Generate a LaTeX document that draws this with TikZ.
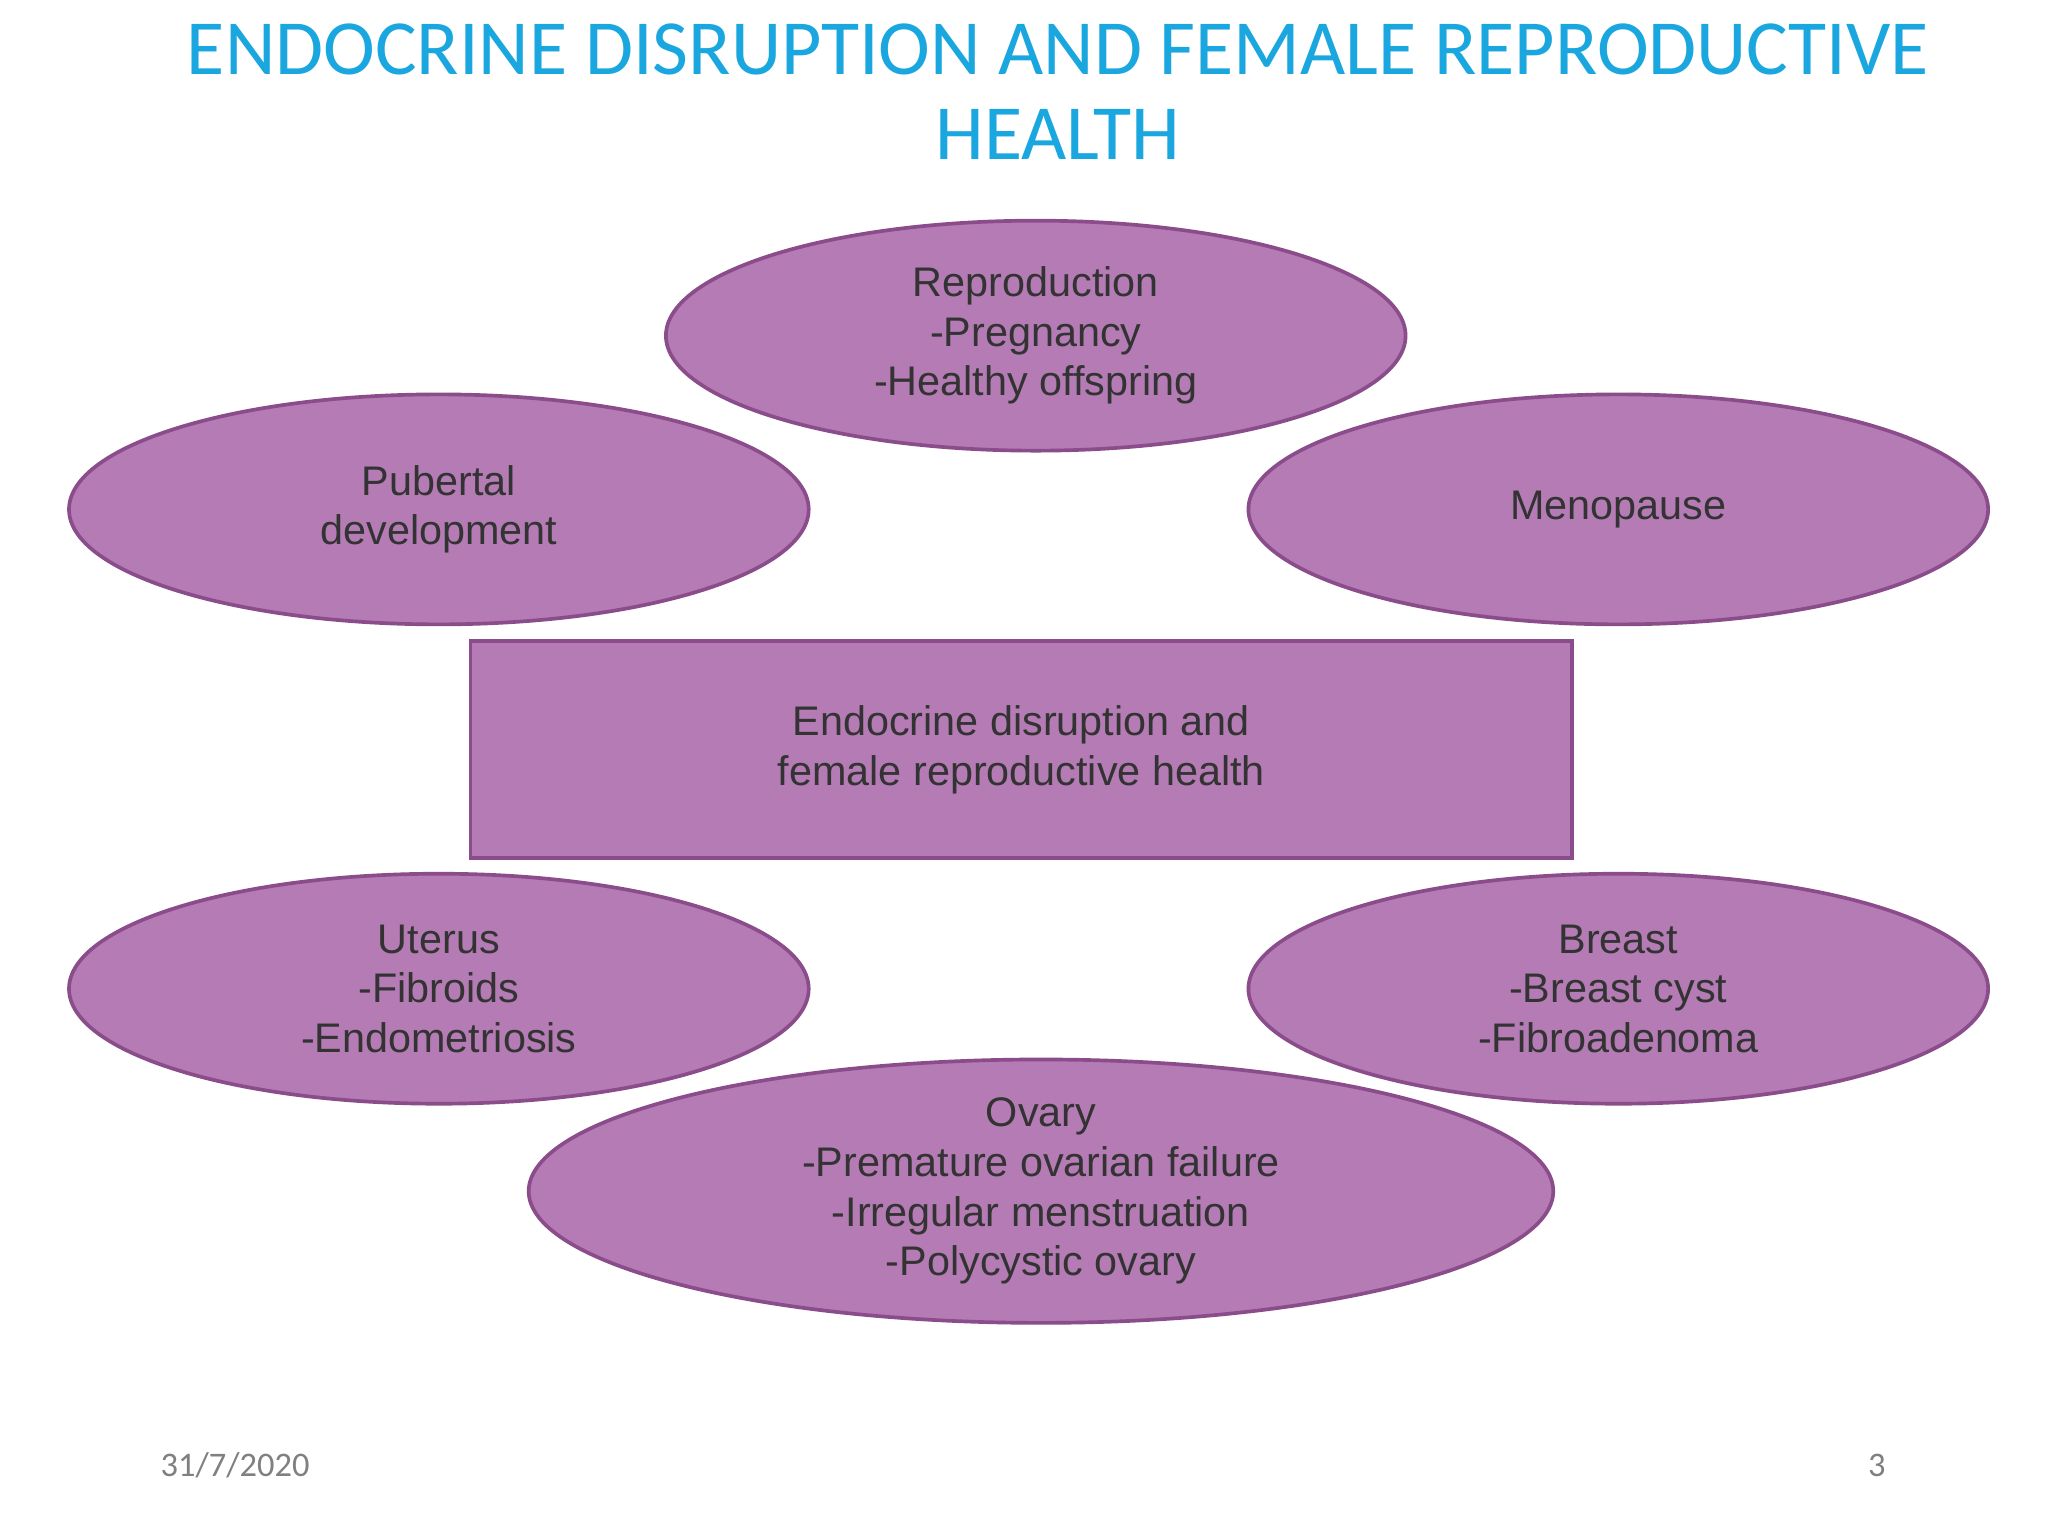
\documentclass[tikz,border=0pt]{standalone}
\usepackage{fontspec}
\setmainfont{Liberation Sans}
\newfontfamily\titlefont{Carlito}
\usetikzlibrary{shapes.geometric}
\definecolor{fillp}{HTML}{B57BB5}
\definecolor{edgep}{HTML}{8A4C8A}
\definecolor{txt}{HTML}{333333}
\definecolor{titlec}{HTML}{1AA6DE}
\tikzset{
  ell/.style={ellipse, fill=fillp, draw=edgep, line width=0.8pt, minimum width=5.66cm, minimum height=1.76cm, inner sep=0pt, align=center, text=txt, font=\fontsize{9}{10.8}\selectfont},
  box/.style={rectangle, fill=fillp, draw=edgep, line width=0.8pt, minimum width=8.43cm, minimum height=1.66cm, inner sep=0pt, align=center, text=txt, font=\fontsize{9}{10.8}\selectfont},
  foot/.style={text=gray, font=\titlefont\fontsize{7.5}{9}\selectfont}
}
\begin{document}
\begin{tikzpicture}[x=0.01cm,y=-0.01cm]
\useasboundingbox[fill=white] (0,0) rectangle (1568,1176);
\node[text=titlec, align=center, font=\titlefont\fontsize{17}{18.5}\selectfont] (title) at (810,70) {ENDOCRINE DISRUPTION AND FEMALE REPRODUCTIVE\\HEALTH};
\node[ell] (repro) at (793,257) {Reproduction\\-Pregnancy\\-Healthy offspring};
\node[ell] (pub) at (336,390) {Pubertal\\development};
\node[ell] (meno) at (1239,390) {Menopause};
\node[box] (center) at (782,574) {Endocrine disruption and\\female reproductive health};
\node[ell] (uterus) at (336,757) {Uterus\\-Fibroids\\-Endometriosis};
\node[ell] (breast) at (1239,757) {Breast\\-Breast cyst\\-Fibroadenoma};
\node[ell, minimum width=7.84cm] (ovary) at (797,912) {Ovary\\-Premature ovarian failure\\-Irregular menstruation\\-Polycystic ovary};
\node[foot] (date) at (180,1122) {31/7/2020};
\node[foot] (page) at (1437,1122) {3};
\end{tikzpicture}
\end{document}
